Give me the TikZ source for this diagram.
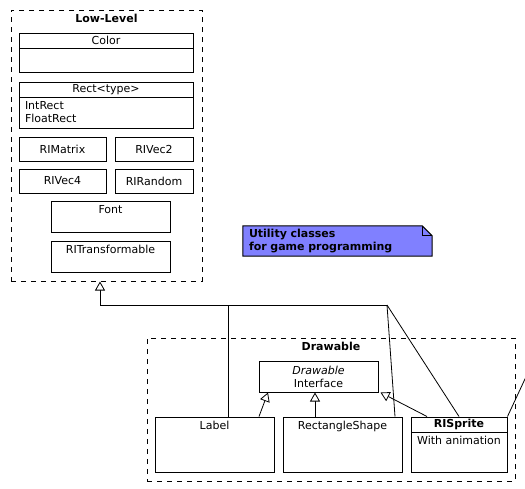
\documentclass[tikz,border=0pt]{standalone}
\usepackage{fontspec}
\setmainfont{DejaVu Sans}
\usetikzlibrary{arrows.meta,backgrounds}
\definecolor{notefill}{RGB}{128,128,255}

\begin{document}
\begin{tikzpicture}[
  x=1pt, y=-1pt,
  every node/.style={font=\fontsize{11pt}{13pt}\selectfont},
  pkg/.style={rectangle, draw, dash pattern=on 5pt off 5pt, line width=1pt},
  pkgtitle/.style={font=\fontsize{11pt}{13pt}\selectfont\bfseries},
  box/.style={rectangle, draw, line width=1pt, align=center, inner sep=2pt},
  headbox/.style={box, minimum height=15pt, inner ysep=0pt},
  topbox/.style={box, text height=8pt, inner ysep=4pt},
  inherit/.style={-{Triangle[length=9pt, width=10pt, fill=white]}, line width=0.8pt},
  link/.style={line width=0.8pt}
]
\useasboundingbox (0,0) rectangle (525,488);
\clip (0,0) rectangle (525,488);

% Low-Level package
\node[pkg, minimum width=191pt, minimum height=271pt] (lowlevel) at (106.5,145.5) {};
\node[pkgtitle] (lowleveltitle) at (106.5,18.5) {Low-Level};

\node[headbox, minimum width=174pt] (color) at (106,40.5) {Color};
\node[box, minimum width=174pt, minimum height=24pt] (colorbody) at (106,60) {};
\node[headbox, minimum width=174pt] (rect) at (106,89.5) {Rect<type>};
\node[box, minimum height=31pt, text width=162pt, align=left, inner xsep=6pt] (rectbody) at (106,112.5) {IntRect\\FloatRect};

\node[box, minimum width=87pt, minimum height=24pt] (rimatrix) at (62.5,149) {RIMatrix};
\node[box, minimum width=78pt, minimum height=24pt] (rivec2) at (154,149) {RIVec2};
\node[box, minimum width=87pt, minimum height=24pt] (rivec4) at (62.5,181) {RIVec4};
\node[box, minimum width=78pt, minimum height=24pt] (rirandom) at (154,181) {RIRandom};

\node[topbox, minimum width=119pt, text depth=15pt] (font) at (110.5,216.5) {Font};
\node[topbox, minimum width=119pt, text depth=15pt] (ritransformable) at (110.5,256.5) {RITransformable};

% Note
\node[text width=177pt, align=left, inner xsep=6pt, inner ysep=0pt, minimum height=30pt, pkgtitle] (note) at (337.5,241) {Utility classes\\for game programming};
\begin{scope}[on background layer]
\draw[line width=1pt, fill=notefill] (note.north west) -- ([xshift=-10pt]note.north east) -- ([yshift=-10pt]note.north east) -- (note.south east) -- (note.south west) -- cycle;
\draw[line width=1pt] ([xshift=-10pt]note.north east) |- ([yshift=-10pt]note.north east);
\end{scope}

% Drawable package
\node[pkg, minimum width=368pt, minimum height=143pt] (drawable) at (331,409.5) {};
\node[pkgtitle] (drawabletitle) at (331,346) {Drawable};

\node[box, minimum width=119pt, minimum height=31pt] (interface) at (318.5,376.5) {\textit{Drawable}\\Interface};
\node[topbox, minimum width=119pt, text depth=39pt] (label) at (214.5,444.5) {Label};
\node[topbox, minimum width=119pt, text depth=39pt] (rectangleshape) at (342.5,444.5) {RectangleShape};
\node[headbox, minimum width=96pt, pkgtitle] (risprite) at (459,424.5) {RISprite};
\node[topbox, minimum width=96pt, text depth=24pt] (spritebody) at (459,452) {With animation};

% Connectors
\coordinate (bus) at (387,305);
\coordinate (buslabel) at (228,305);
\coordinate (offright) at (535,357.5);

\draw[inherit] (bus) -| ([xshift=-6.5pt]lowlevel.south);
\draw[link] ([xshift=13.5pt]label.north) -- (buslabel);
\draw[link] ([xshift=52.5pt]rectangleshape.north) -- (bus);
\draw[link] (risprite.north) -- (bus);
\draw[link] (risprite.north east) -- (offright);

\draw[inherit] ([xshift=44.5pt]label.north) -- ([xshift=-50.5pt]interface.south);
\draw[inherit] ([xshift=-27.5pt]rectangleshape.north) -- ([xshift=-3.5pt]interface.south);
\draw[inherit] ([xshift=-32pt]risprite.north) -- ([xshift=2pt]interface.south east);

\end{tikzpicture}
\end{document}
